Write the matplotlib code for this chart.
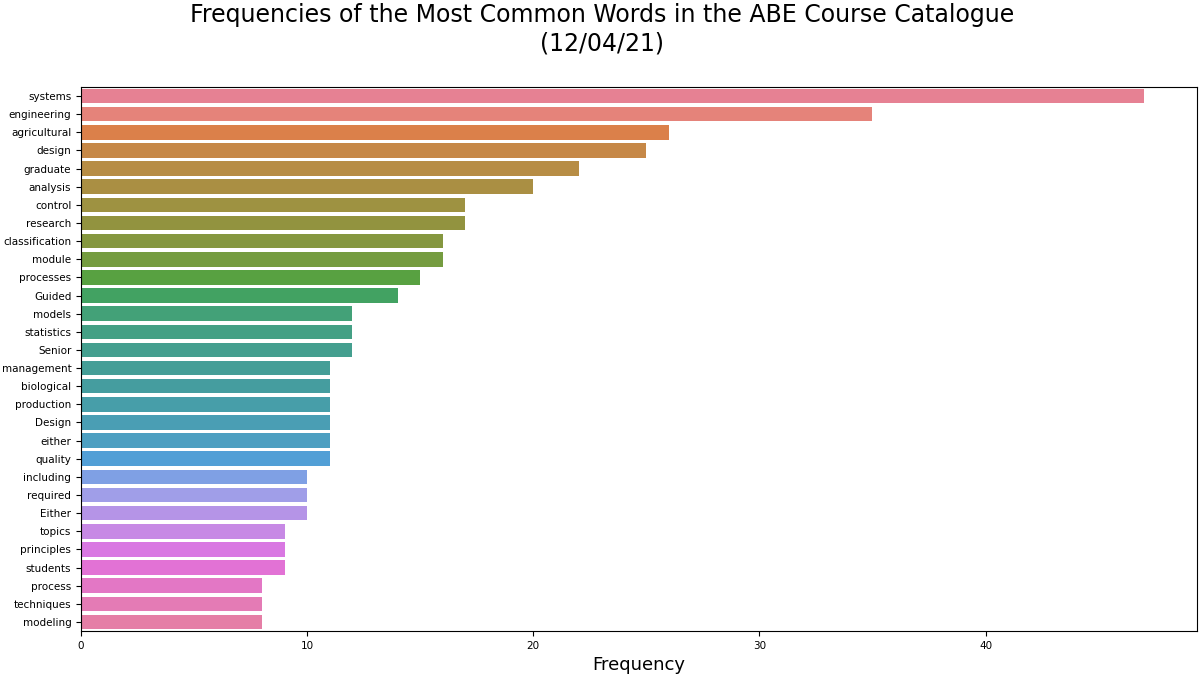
import matplotlib
matplotlib.use("Agg")
import matplotlib.pyplot as plt
import seaborn as sns

words = ["systems", "engineering", "agricultural", "design", "graduate", "analysis",
         "control", "research", "classification", "module", "processes", "Guided",
         "models", "statistics", "Senior", "management", "biological", "production",
         "Design", "either", "quality", "including", "required", "Either", "topics",
         "principles", "students", "process", "techniques", "modeling"]
counts = [47, 35, 26, 25, 22, 20, 17, 17, 16, 16, 15, 14, 12, 12, 12,
          11, 11, 11, 11, 11, 11, 10, 10, 10, 9, 9, 9, 8, 8, 8]

colors = [sns.desaturate(c, 0.75) for c in sns.color_palette("husl", len(words))]

fig = plt.figure(figsize=(12.04, 6.77), dpi=100)
ax = fig.add_axes([81 / 1204, 1 - 631 / 677, (1197 - 81) / 1204, (631 - 87) / 677])
pos = list(range(len(words)))
ax.barh(pos, counts, height=0.8, color=colors)
ax.set_yticks(pos)
ax.set_yticklabels(words, fontsize=7.5)
ax.tick_params(axis="x", labelsize=7.5)
ax.set_ylim(len(words) - 0.5, -0.5)
ax.set_xlabel("Frequency", fontsize=13)
fig.suptitle("Frequencies of the Most Common Words in the ABE Course Catalogue\n(12/04/21)",
             fontsize=17, y=0.995)
fig.savefig("out.png", dpi=100)
